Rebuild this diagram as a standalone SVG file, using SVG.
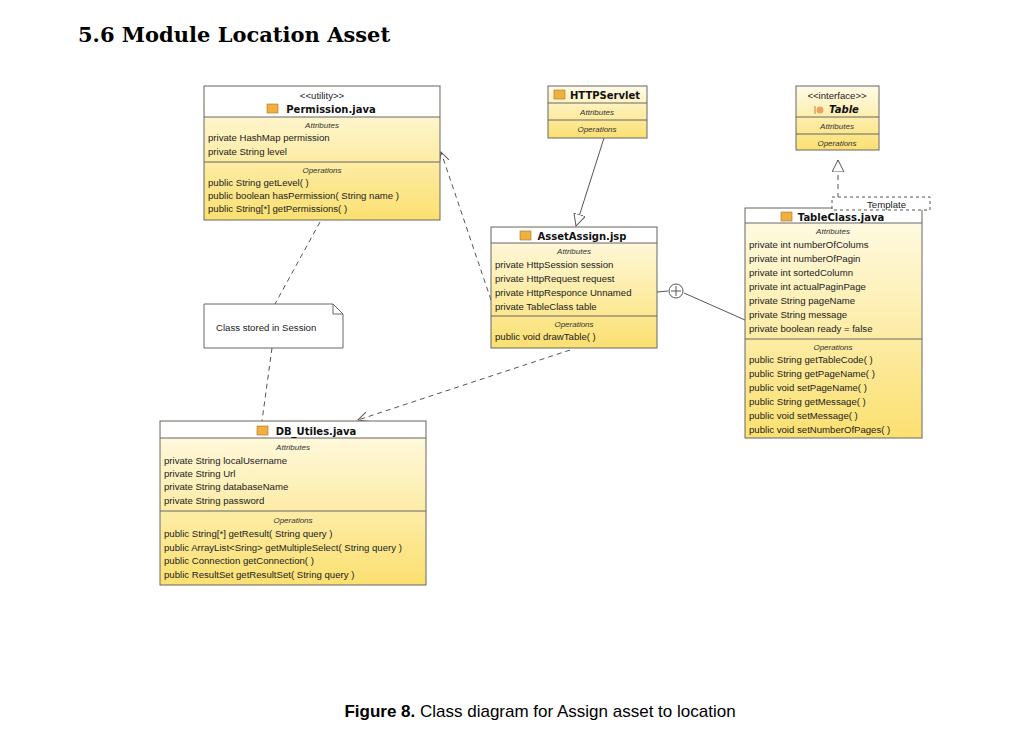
<svg xmlns="http://www.w3.org/2000/svg" width="1024" height="742" viewBox="0 0 1024 742" xml:space="preserve">
<defs>
<linearGradient id="g" x1="0" y1="0" x2="0" y2="1"><stop offset="0" stop-color="#fffbe8"/><stop offset="1" stop-color="#fbe070"/></linearGradient>
<marker id="open" markerWidth="12" markerHeight="12" refX="10" refY="6" orient="auto" markerUnits="userSpaceOnUse"><path d="M0,1 L10,6 L0,11" fill="none" stroke="#555"/></marker>
<marker id="tri" markerWidth="14" markerHeight="14" refX="12" refY="6" orient="auto" markerUnits="userSpaceOnUse"><path d="M0,0 L12,6 L0,12 Z" fill="#fff" stroke="#555"/></marker>
</defs>
<style>
.box{fill:url(#g);stroke:#666;stroke-width:1}
.sep{stroke:#666;stroke-width:1}
.t{font-family:"Liberation Sans",Arial,sans-serif;font-size:9.6px;fill:#222}
.s{font-family:"Liberation Sans",Arial,sans-serif;font-size:8px;font-style:italic;fill:#333;text-anchor:middle}
.h{font-family:"DejaVu Sans",sans-serif;font-size:10px;font-weight:bold;fill:#111;text-anchor:middle}
.c{fill:none;stroke:#555;stroke-width:1}
.d{fill:none;stroke:#555;stroke-width:1;stroke-dasharray:5,4}
.ic{fill:#f0b040;stroke:#b07020;stroke-width:0.6}
</style>
<rect width="1024" height="742" fill="#fff"/>
<text x="78" y="42" font-family="'DejaVu Serif',serif" font-weight="bold" font-size="21" fill="#000">5.6 Module Location Asset</text>

<g id="connectors">
<path class="d" d="M491,300 L441,152" marker-end="url(#open)"/>
<path class="c" d="M604,138 L576,226" marker-end="url(#tri)"/>
<path class="d" d="M838,198 L838,160" marker-end="url(#tri)"/>
<path class="c" d="M657,292 L668,291"/>
<path class="c" d="M684,293 L745,320"/>
<circle cx="676" cy="291" r="7" fill="#fff" stroke="#555"/>
<path class="c" d="M676,286 L676,296 M671,291 L681,291"/>
<path class="d" d="M570,350 L358,420" marker-end="url(#open)"/>
<path class="d" d="M320,222 L275,304"/>
<path class="d" d="M272,348 L262,421"/>
</g>

<g id="permission">
<rect class="box" x="204" y="86" width="236" height="134"/>
<rect x="205" y="87" width="234" height="30" fill="#fff"/>
<line class="sep" x1="204" y1="117" x2="440" y2="117"/>
<line class="sep" x1="204" y1="162" x2="440" y2="162"/>
<text x="322" y="99" class="t" text-anchor="middle" font-size="8">&lt;&lt;utility&gt;&gt;</text>
<rect class="ic" x="267" y="104" width="11" height="9"/>
<text x="331" y="113" class="h">Permission.java</text>
<text x="322" y="128" class="s">Attributes</text>
<text x="208" y="141" class="t">private HashMap permission</text>
<text x="208" y="155" class="t">private String level</text>
<text x="322" y="173" class="s">Operations</text>
<text x="208" y="186" class="t">public String  getLevel( )</text>
<text x="208" y="199" class="t">public boolean  hasPermission( String name )</text>
<text x="208" y="212" class="t">public String[*]  getPermissions( )</text>
</g>

<g id="httpservlet">
<rect class="box" x="548" y="86" width="99" height="52"/>
<line class="sep" x1="548" y1="103" x2="647" y2="103"/>
<line class="sep" x1="548" y1="120" x2="647" y2="120"/>
<rect class="ic" x="554" y="90" width="11" height="9"/>
<text x="605" y="99" class="h" font-size="9.5">HTTPServlet</text>
<text x="597" y="115" class="s">Attributes</text>
<text x="597" y="132" class="s">Operations</text>
</g>

<g id="table">
<rect class="box" x="796" y="86" width="83" height="64"/>
<line class="sep" x1="796" y1="117" x2="879" y2="117"/>
<line class="sep" x1="796" y1="134" x2="879" y2="134"/>
<text x="837" y="99" class="t" text-anchor="middle" font-size="8">&lt;&lt;interface&gt;&gt;</text>
<line x1="815" y1="106" x2="815" y2="114" stroke="#c08030"/>
<circle cx="820" cy="110" r="3.5" fill="#f0a060"/>
<text x="844" y="113" class="h" font-style="italic">Table</text>
<text x="837" y="129" class="s">Attributes</text>
<text x="837" y="146" class="s">Operations</text>
</g>

<g id="tableclass">
<rect class="box" x="745" y="208" width="177" height="230"/>
<rect x="746" y="209" width="175" height="14" fill="#fff"/>
<line class="sep" x1="745" y1="223" x2="922" y2="223"/>
<line class="sep" x1="745" y1="339" x2="922" y2="339"/>
<rect class="ic" x="781" y="212" width="11" height="9"/>
<text x="841" y="221" class="h">TableClass.java</text>
<text x="833" y="234" class="s">Attributes</text>
<text x="749" y="248" class="t">private int numberOfColums</text>
<text x="749" y="262" class="t">private int numberOfPagin</text>
<text x="749" y="276" class="t">private int sortedColumn</text>
<text x="749" y="290" class="t">private int actualPaginPage</text>
<text x="749" y="304" class="t">private String pageName</text>
<text x="749" y="318" class="t">private String message</text>
<text x="749" y="332" class="t">private boolean ready = false</text>
<text x="833" y="350" class="s">Operations</text>
<text x="749" y="363" class="t">public String  getTableCode( )</text>
<text x="749" y="377" class="t">public String  getPageName( )</text>
<text x="749" y="391" class="t">public void  setPageName( )</text>
<text x="749" y="405" class="t">public String  getMessage( )</text>
<text x="749" y="419" class="t">public void  setMessage( )</text>
<text x="749" y="433" class="t">public void  setNumberOfPages( )</text>
</g>

<g id="template">
<rect x="832" y="197" width="98" height="13" fill="#fff" stroke="#555" stroke-dasharray="3,3"/>
<text x="906" y="208" class="t" text-anchor="end" font-size="10.5" fill="#444">Template</text>
</g>

<g id="assetassign">
<rect class="box" x="491" y="227" width="166" height="121"/>
<rect x="492" y="228" width="164" height="15" fill="#fff"/>
<line class="sep" x1="491" y1="243" x2="657" y2="243"/>
<line class="sep" x1="491" y1="316" x2="657" y2="316"/>
<rect class="ic" x="520" y="231" width="11" height="9"/>
<text x="582" y="240" class="h">AssetAssign.jsp</text>
<text x="574" y="254" class="s">Attributes</text>
<text x="495" y="268" class="t">private HttpSession session</text>
<text x="495" y="282" class="t">private HttpRequest request</text>
<text x="495" y="296" class="t">private HttpResponce Unnamed</text>
<text x="495" y="310" class="t">private TableClass table</text>
<text x="574" y="327" class="s">Operations</text>
<text x="495" y="340" class="t">public void  drawTable( )</text>
</g>

<g id="note">
<path d="M204,304 L333,304 L343,314 L343,348 L204,348 Z" fill="#fff" stroke="#666"/>
<path d="M333,304 L333,314 L343,314" fill="none" stroke="#666"/>
<text x="216" y="331" class="t">Class stored in Session</text>
</g>

<g id="dbutiles">
<rect class="box" x="160" y="421" width="266" height="164"/>
<rect x="161" y="422" width="264" height="16" fill="#fff"/>
<line class="sep" x1="160" y1="438" x2="426" y2="438"/>
<line class="sep" x1="160" y1="511" x2="426" y2="511"/>
<rect class="ic" x="257" y="426" width="11" height="9"/>
<text x="316" y="435" class="h">DB_Utiles.java</text>
<text x="293" y="450" class="s">Attributes</text>
<text x="164" y="464" class="t">private String localUsername</text>
<text x="164" y="477" class="t">private String Url</text>
<text x="164" y="490" class="t">private String databaseName</text>
<text x="164" y="504" class="t">private String password</text>
<text x="293" y="523" class="s">Operations</text>
<text x="164" y="537" class="t">public String[*]  getResult( String query )</text>
<text x="164" y="551" class="t">public ArrayList&lt;Sring&gt;  getMultipleSelect( String query )</text>
<text x="164" y="564" class="t">public Connection  getConnection( )</text>
<text x="164" y="578" class="t">public ResultSet  getResultSet( String query )</text>
</g>

<text x="540" y="717" font-family="'Liberation Sans',Arial,sans-serif" font-size="17" text-anchor="middle" fill="#000"><tspan font-weight="bold">Figure 8.</tspan> Class diagram for Assign asset to location</text>
</svg>
